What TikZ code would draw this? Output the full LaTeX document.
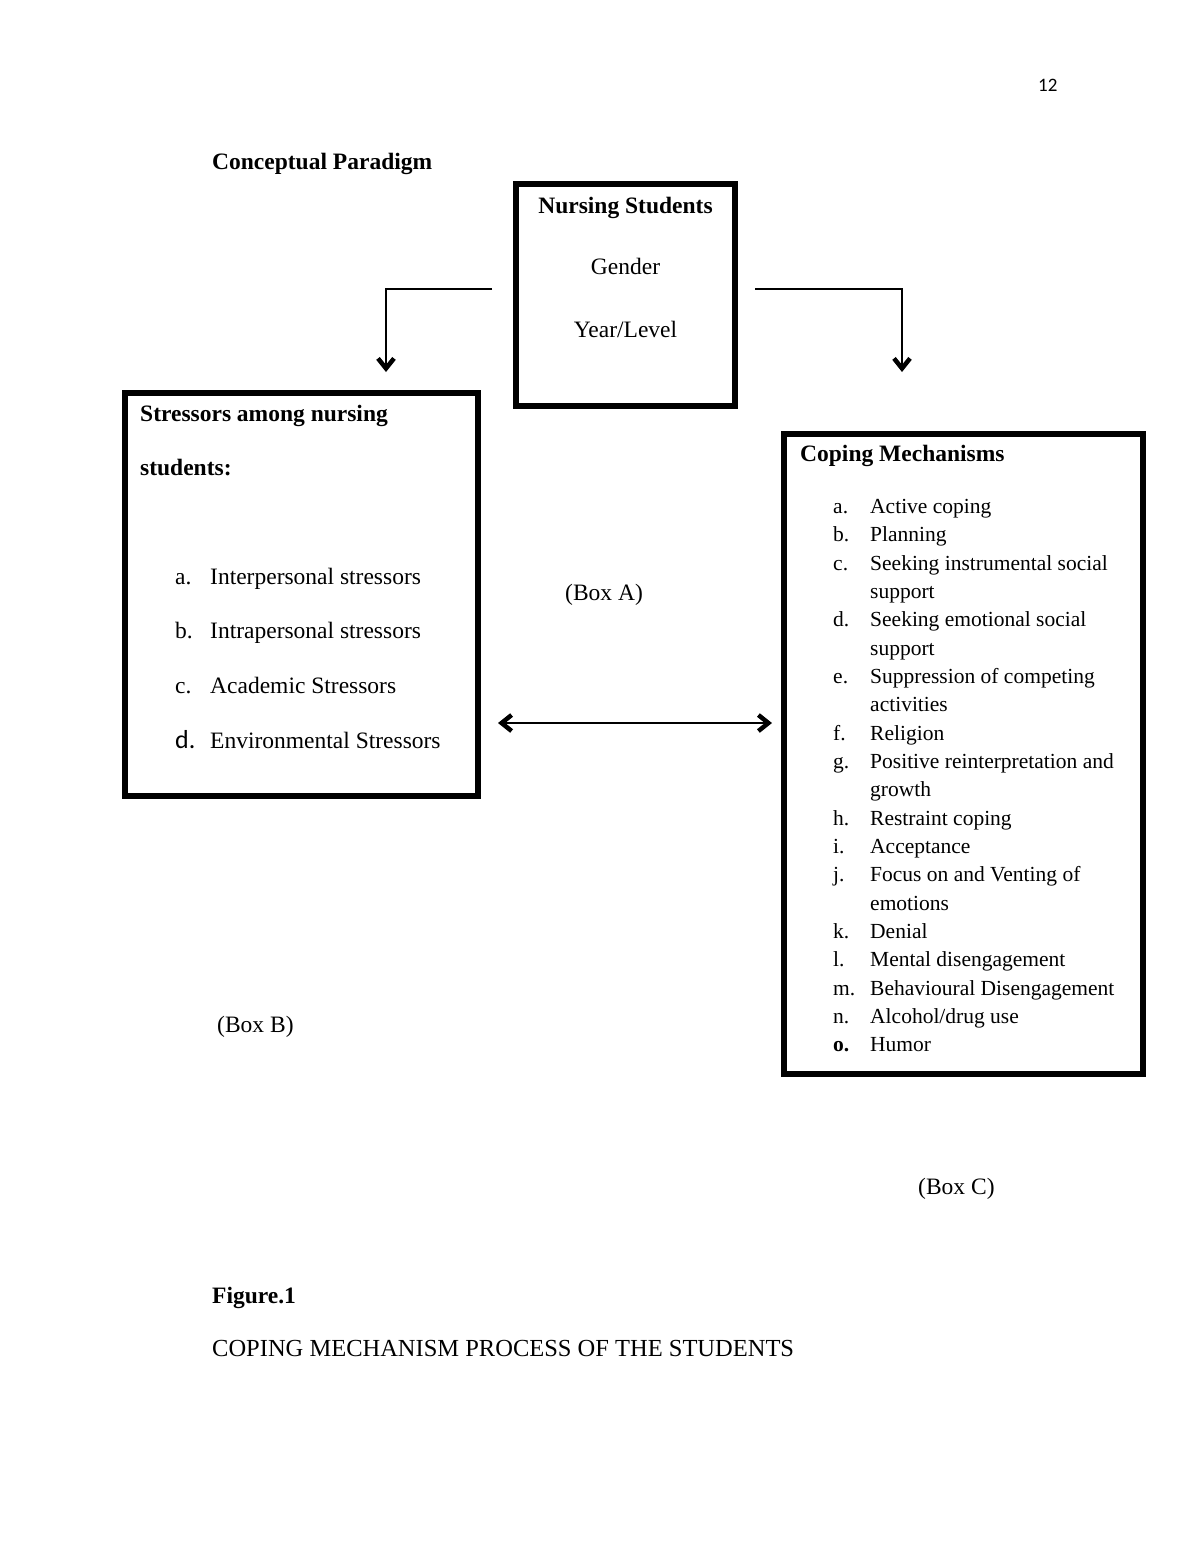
\documentclass[tikz,border=0pt]{standalone}
\usepackage{fontspec}
\setmainfont{Liberation Serif}
\newfontfamily\calibri{Carlito}
\usetikzlibrary{arrows.meta}
\tikzset{
  every node/.style={font=\fontsize{23.5}{28}\selectfont, inner sep=0pt},
  chev/.tip={Straight Barb[length=10pt,width=16pt,line width=4.5pt]},
  box/.style={draw, line width=6pt},
  flow/.style={line width=2pt, -chev},
  title/.style={font=\fontsize{23.5}{28}\selectfont\bfseries, anchor=base west},
  item/.style={anchor=base west},
  small/.style={item, font=\fontsize{21.5}{26}\selectfont},
}
\begin{document}
\begin{tikzpicture}[x=1pt, y=-1pt]
    \useasboundingbox (0,0) rectangle (1200,1553);
    % Page number and heading
    \node[font=\calibri\fontsize{19}{22}\selectfont, anchor=base west] (page) at (1038,91) {12};
    \node[title] (heading) at (212,169) {Conceptual Paradigm};

    % Draw the three boxes
    \node[box, minimum width=219pt, minimum height=222pt] (boxA) at (625.5,295) {};
    \node[box, minimum width=353pt, minimum height=403pt] (boxB) at (301.5,594.5) {};
    \node[box, minimum width=359pt, minimum height=640pt] (boxC) at (963.5,754) {};

    % Box A text
    \node[title, anchor=base] (nurse) at (625.5,213) {Nursing Students};
    \node[anchor=base] (gender) at (625.5,274) {Gender};
    \node[anchor=base] (year) at (625.5,337) {Year/Level};

    % Box B text and its list
    \node[title] (stressT) at (140,421) {Stressors among nursing};
    \node[title] (stressS) at (140,475) {students:};
    \foreach \y/\l/\t in {584/a./Interpersonal stressors, 638/b./Intrapersonal stressors,
                          693/c./Academic Stressors,
                          748/{\calibri\fontsize{26}{30}\selectfont d.}/Environmental Stressors} {
        \node[item] at (175,\y) {\l};
        \node[item] at (210,\y) {\t};
    }

    % Box C text and its list
    \node[title] (copeT) at (800,461) {Coping Mechanisms};
    \foreach \n/\l/\t in {0/a./Active coping, 1/b./Planning, 2/c./Seeking instrumental social,
                          3//support, 4/d./Seeking emotional social, 5//support,
                          6/e./Suppression of competing, 7//activities, 8/f./Religion,
                          9/g./Positive reinterpretation and, 10//growth, 11/h./Restraint coping,
                          12/i./Acceptance, 13/j./Focus on and Venting of, 14//emotions,
                          15/k./Denial, 16/l./Mental disengagement, 17/m./Behavioural Disengagement,
                          18/n./{Alcohol/drug use}, 19/{\bfseries o.}/Humor} {
        \node[small] at (833,{513.3+\n*28.35}) {\l};
        \node[small] at (870,{513.3+\n*28.35}) {\t};
    }

    % Box names
    \node[item] (nameA) at (565,600) {(Box A)};
    \node[item] (nameB) at (217,1032) {(Box B)};
    \node[item] (nameC) at (918,1194) {(Box C)};

    % Figure caption
    \node[title] (fig) at (212,1303) {Figure.1};
    \node[item, font=\fontsize{24.5}{28}\selectfont] (caption) at (212,1356) {COPING MECHANISM PROCESS OF THE STUDENTS};

    % Arrows between the boxes
    \coordinate (rowA) at (0,289);
    \coordinate (colB) at (386,0);
    \coordinate (colC) at (902,0);
    \coordinate (rowD) at (0,723);
    \draw[flow, shorten <=21pt, shorten >=18pt] (boxA.west |- rowA) -| (boxB.north -| colB);
    \draw[flow, shorten <=17pt, shorten >=59pt] (boxA.east |- rowA) -| (boxC.north -| colC);
    \draw[line width=2pt, chev-chev, shorten <=17pt, shorten >=9pt] (boxB.east |- rowD) -- (boxC.west |- rowD);
\end{tikzpicture}
\end{document}
